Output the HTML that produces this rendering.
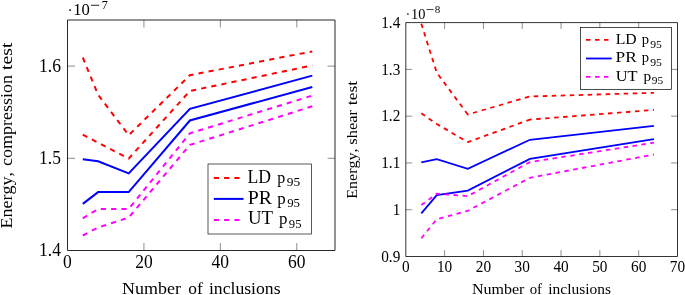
<!DOCTYPE html>
<html><head><meta charset="utf-8"><title>Energy plots</title>
<style>
html,body{margin:0;padding:0;background:#fff;width:685px;height:295px;overflow:hidden;}
svg{display:block;will-change:transform;}
text{font-family:"Liberation Serif",serif;font-kerning:none;font-variant-ligatures:none;}
</style></head><body>
<svg width="685" height="295" viewBox="0 0 685 295">
<rect width="685" height="295" fill="#fff"/>
<clipPath id="cl"><rect x="67.5" y="20" width="267.5" height="230.5"/></clipPath>
<g clip-path="url(#cl)" fill="none" stroke-width="2" stroke-linejoin="miter">
<polyline points="82.8,57.5 98.1,94.8 128.7,135.2 189.9,75.2 312.3,51.4" stroke="#ff0000" stroke-dasharray="5.15 5.15 5.15 5.15 5.15 5.15 5.15 5.15 5.15 5.15 5.15 5.15 5.15 5.15 5.15 5.15 5.15 5.15 5.15 5.15 5.15 5.15 5.15 5.15 5.15 5.15 5.15 5.15 5.15 5.15 5.15 5.15 5.15 5.15 5.15 5.15 5.15 5.15 5.15 5.15 5.15 5.15 5.15 5.15 5.15 5.15 5.15 5.15 5.15 5.15 5.15 5.15 5.15 5.15 5.15 5.15 5.15 5.15 2.69 1000.00"/>
<polyline points="82.8,134.6 98.1,142.7 128.7,158.6 189.9,91 312.3,65.4" stroke="#ff0000" stroke-dasharray="5.15 5.15 5.15 5.15 5.15 5.15 5.15 5.15 5.15 5.15 5.15 5.15 5.15 5.15 5.15 5.15 5.15 5.15 5.15 5.15 5.15 5.15 5.15 5.15 5.15 5.15 5.15 5.15 5.15 5.15 5.15 5.15 5.15 5.15 5.15 5.15 5.15 5.15 5.15 5.15 5.15 5.15 5.15 5.15 5.15 5.15 5.15 5.15 5.15 5.15 5.15 5.15 0.23 1000.00"/>
<polyline points="82.8,159.2 98.1,161.2 128.7,173.4 189.9,108.9 312.3,75.6" stroke="#0000ff"/>
<polyline points="82.8,203.9 98.1,192.1 128.7,192.1 189.9,120.5 312.3,87" stroke="#0000ff"/>
<polyline points="82.8,218.3 98.1,209 128.7,209 189.9,133.3 312.3,95.6" stroke="#ff00ff" stroke-dasharray="5.15 5.15 5.15 5.15 5.15 5.15 5.15 5.15 5.15 5.15 5.15 5.15 5.15 5.15 5.15 5.15 5.15 5.15 5.15 5.15 5.15 5.15 5.15 5.15 5.15 5.15 5.15 5.15 5.15 5.15 5.15 5.15 5.15 5.15 5.15 5.15 5.15 5.15 5.15 5.15 5.15 5.15 5.15 5.15 5.15 5.15 5.15 5.15 5.15 5.15 5.15 5.15 5.15 1000.97"/>
<polyline points="82.8,235.5 98.1,227.5 128.7,217.6 189.9,144.9 312.3,106.3" stroke="#ff00ff" stroke-dasharray="5.15 5.15 5.15 5.15 5.15 5.15 5.15 5.15 5.15 5.15 5.15 5.15 5.15 5.15 5.15 5.15 5.15 5.15 5.15 5.15 5.15 5.15 5.15 5.15 5.15 5.15 5.15 5.15 5.15 5.15 5.15 5.15 5.15 5.15 5.15 5.15 5.15 5.15 5.15 5.15 5.15 5.15 5.15 5.15 5.15 5.15 5.15 5.15 5.15 5.15 5.15 5.15 5.00 1000.00"/>
</g>
<g stroke="#000" stroke-width="0.45" fill="none">
<line x1="143.93" y1="250.5" x2="143.93" y2="243"/>
<line x1="143.93" y1="20" x2="143.93" y2="27.5"/>
<line x1="220.36" y1="250.5" x2="220.36" y2="243"/>
<line x1="220.36" y1="20" x2="220.36" y2="27.5"/>
<line x1="296.79" y1="250.5" x2="296.79" y2="243"/>
<line x1="296.79" y1="20" x2="296.79" y2="27.5"/>
<line x1="67.5" y1="158.3" x2="75" y2="158.3"/>
<line x1="335" y1="158.3" x2="327.5" y2="158.3"/>
<line x1="67.5" y1="66.1" x2="75" y2="66.1"/>
<line x1="335" y1="66.1" x2="327.5" y2="66.1"/>
</g>
<path d="M67.5 20H335V250.5H67.5Z" fill="none" stroke="#000" stroke-width="0.85"/>
<g font-size="17.5" fill="#000">
<text transform="translate(67.5 267.9) scale(1 1.035)" text-anchor="middle">0</text>
<text transform="translate(143.93 267.9) scale(1 1.035)" text-anchor="middle">20</text>
<text transform="translate(220.36 267.9) scale(1 1.035)" text-anchor="middle">40</text>
<text transform="translate(296.79 267.9) scale(1 1.035)" text-anchor="middle">60</text>
<text transform="translate(60.9 256.2) scale(1 1.035)" text-anchor="end">1.4</text>
<text transform="translate(60.9 164) scale(1 1.035)" text-anchor="end">1.5</text>
<text transform="translate(60.9 71.8) scale(1 1.035)" text-anchor="end">1.6</text>
</g>
<circle cx="70.1" cy="10.1" r="0.95" fill="#000"/>
<text x="73.2" y="14.7" font-size="17.3" textLength="16.6" lengthAdjust="spacingAndGlyphs">10</text>
<rect x="91" y="4.8" width="8.2" height="0.85" fill="#000"/>
<text x="101.8" y="8.7" font-size="12.2">7</text>
<text x="122.08" y="293.9" font-size="17.5" textLength="58.88" lengthAdjust="spacingAndGlyphs">Number</text>
<text x="188.24" y="293.9" font-size="17.5" textLength="14.46" lengthAdjust="spacingAndGlyphs">of</text>
<text x="208.93" y="293.9" font-size="17.5" textLength="71.61" lengthAdjust="spacingAndGlyphs">inclusions</text>
<text transform="rotate(-90)" x="-228.42" y="11.7" font-size="17.5" textLength="56.45" lengthAdjust="spacingAndGlyphs">Energy,</text>
<text transform="rotate(-90)" x="-166.09" y="11.7" font-size="17.5" textLength="91.16" lengthAdjust="spacingAndGlyphs">compression</text>
<text transform="rotate(-90)" x="-69.99" y="11.7" font-size="17.5" textLength="27.41" lengthAdjust="spacingAndGlyphs">test</text>
<rect x="208" y="164" width="103.5" height="70" fill="#fff" stroke="#000" stroke-width="0.65"/>
<line x1="213.8" y1="178" x2="243.5" y2="178" stroke="#ff0000" stroke-width="2" stroke-dasharray="5.15 5.15"/>
<text x="247.59" y="182.8" font-size="18" textLength="23.51" lengthAdjust="spacingAndGlyphs">LD</text>
<text x="277.34" y="182.8" font-size="17.6" textLength="7.98" lengthAdjust="spacingAndGlyphs">p</text>
<text x="286.87" y="186.4" font-size="12.4" textLength="13.46" lengthAdjust="spacingAndGlyphs">95</text>
<line x1="213.8" y1="198.9" x2="243.5" y2="198.9" stroke="#0000ff" stroke-width="2"/>
<text x="247.73" y="203.7" font-size="18" textLength="24.2" lengthAdjust="spacingAndGlyphs">PR</text>
<text x="277.23" y="203.7" font-size="17.6" textLength="8.43" lengthAdjust="spacingAndGlyphs">p</text>
<text x="287.19" y="207.3" font-size="12.4" textLength="12.81" lengthAdjust="spacingAndGlyphs">95</text>
<line x1="213.8" y1="220.1" x2="243.5" y2="220.1" stroke="#ff00ff" stroke-width="2" stroke-dasharray="5.15 5.15"/>
<text x="247.91" y="224.4" font-size="18" textLength="25.01" lengthAdjust="spacingAndGlyphs">UT</text>
<text x="279.03" y="224.4" font-size="17.6" textLength="8.43" lengthAdjust="spacingAndGlyphs">p</text>
<text x="288.89" y="228" font-size="12.4" textLength="12.6" lengthAdjust="spacingAndGlyphs">95</text>
<clipPath id="cr"><rect x="405.8" y="22.6" width="271.7" height="233.9"/></clipPath>
<g clip-path="url(#cr)" fill="none" stroke-width="1.8" stroke-linejoin="miter">
<polyline points="421.3,23.7 436.8,72.8 467.8,114.5 529.9,96.5 653.9,92.8" stroke="#ff0000" stroke-dasharray="4.50 4.50 4.50 4.50 4.50 4.50 4.50 4.50 4.50 4.50 4.50 4.50 4.50 4.50 4.50 4.50 4.50 4.50 4.50 4.50 4.50 4.50 5.30 4.50 4.50 4.50 4.50 4.50 4.50 4.50 4.50 4.50 4.50 4.50 4.50 4.50 4.50 4.60 4.50 4.50 4.50 4.50 4.50 4.50 4.50 4.50 4.50 4.50 4.50 4.50 4.50 4.50 4.50 4.50 4.50 4.50 4.50 4.50 4.50 4.50 4.50 4.50 4.50 4.50 3.26 1000.00"/>
<polyline points="421.3,113.3 436.8,124 467.8,142.1 529.9,119.6 653.9,109.9" stroke="#ff0000" stroke-dasharray="4.50 4.50 4.50 4.50 4.50 4.50 4.50 4.50 4.50 4.50 4.50 4.50 4.50 4.50 4.50 4.50 4.50 4.50 4.50 4.50 4.50 4.50 4.50 4.50 4.50 4.50 5.60 4.50 4.50 4.50 4.50 4.50 4.50 4.50 4.50 4.50 4.50 4.50 4.50 4.50 4.50 4.50 4.50 4.50 4.50 4.50 4.50 4.50 4.50 4.50 4.50 4.50 4.50 4.50 1.06 1000.00"/>
<polyline points="421.3,162.4 436.8,159.1 467.8,168.8 529.9,139.8 653.9,125.8" stroke="#0000ff"/>
<polyline points="421.3,213.4 436.8,195.2 467.8,190.6 529.9,158.9 653.9,139.2" stroke="#0000ff"/>
<polyline points="421.3,205.1 436.8,193.7 467.8,196.1 529.9,162.1 653.9,142.7" stroke="#ff00ff" stroke-dasharray="4.50 4.50 4.50 4.50 4.50 4.50 4.50 4.50 4.50 4.50 4.50 4.50 4.50 4.50 4.50 4.50 4.50 4.50 4.50 4.50 4.50 4.50 4.50 4.50 4.50 4.50 4.50 4.50 4.50 4.50 4.50 4.50 4.50 4.50 4.50 4.50 4.50 4.50 4.50 4.50 4.50 4.50 4.50 4.50 4.50 4.50 4.50 4.50 4.50 4.50 4.50 4.50 4.50 4.50 3.64 1000.00"/>
<polyline points="421.3,238.2 436.8,219.2 467.8,210.8 529.9,177.8 653.9,154.5" stroke="#ff00ff" stroke-dasharray="4.50 4.50 4.50 4.50 4.50 4.50 4.50 4.50 4.50 4.50 4.50 4.50 4.50 4.50 4.50 4.50 4.50 4.50 4.50 4.50 4.50 4.50 4.50 4.50 4.50 4.50 4.50 4.50 4.50 4.50 4.50 4.50 4.50 4.50 4.50 4.50 4.50 4.50 4.50 4.50 4.50 4.50 4.50 4.50 4.50 4.50 4.50 4.50 4.50 4.50 4.50 4.50 4.50 4.50 4.50 4.50 1.13 1000.00"/>
</g>
<g stroke="#000" stroke-width="0.45" fill="none">
<line x1="444.61" y1="256.5" x2="444.61" y2="250.1"/>
<line x1="444.61" y1="22.6" x2="444.61" y2="29"/>
<line x1="483.43" y1="256.5" x2="483.43" y2="250.1"/>
<line x1="483.43" y1="22.6" x2="483.43" y2="29"/>
<line x1="522.24" y1="256.5" x2="522.24" y2="250.1"/>
<line x1="522.24" y1="22.6" x2="522.24" y2="29"/>
<line x1="561.06" y1="256.5" x2="561.06" y2="250.1"/>
<line x1="561.06" y1="22.6" x2="561.06" y2="29"/>
<line x1="599.87" y1="256.5" x2="599.87" y2="250.1"/>
<line x1="599.87" y1="22.6" x2="599.87" y2="29"/>
<line x1="638.69" y1="256.5" x2="638.69" y2="250.1"/>
<line x1="638.69" y1="22.6" x2="638.69" y2="29"/>
<line x1="405.8" y1="209.72" x2="412.2" y2="209.72"/>
<line x1="677.5" y1="209.72" x2="671.1" y2="209.72"/>
<line x1="405.8" y1="162.94" x2="412.2" y2="162.94"/>
<line x1="677.5" y1="162.94" x2="671.1" y2="162.94"/>
<line x1="405.8" y1="116.16" x2="412.2" y2="116.16"/>
<line x1="677.5" y1="116.16" x2="671.1" y2="116.16"/>
<line x1="405.8" y1="69.38" x2="412.2" y2="69.38"/>
<line x1="677.5" y1="69.38" x2="671.1" y2="69.38"/>
</g>
<path d="M405.8 22.6H677.5V256.5H405.8Z" fill="none" stroke="#000" stroke-width="0.8"/>
<g font-size="15.3" fill="#000">
<text transform="translate(405.8 271.6) scale(1 1.06)" text-anchor="middle">0</text>
<text transform="translate(444.61 271.6) scale(1 1.06)" text-anchor="middle">10</text>
<text transform="translate(483.43 271.6) scale(1 1.06)" text-anchor="middle">20</text>
<text transform="translate(522.24 271.6) scale(1 1.06)" text-anchor="middle">30</text>
<text transform="translate(561.06 271.6) scale(1 1.06)" text-anchor="middle">40</text>
<text transform="translate(599.87 271.6) scale(1 1.06)" text-anchor="middle">50</text>
<text transform="translate(638.69 271.6) scale(1 1.06)" text-anchor="middle">60</text>
<text transform="translate(677.5 271.6) scale(1 1.06)" text-anchor="middle">70</text>
<text transform="translate(400.3 261.7) scale(1 1.06)" text-anchor="end">0.9</text>
<text transform="translate(400.3 214.92) scale(1 1.06)" text-anchor="end">1</text>
<text transform="translate(400.3 168.14) scale(1 1.06)" text-anchor="end">1.1</text>
<text transform="translate(400.3 121.36) scale(1 1.06)" text-anchor="end">1.2</text>
<text transform="translate(400.3 74.58) scale(1 1.06)" text-anchor="end">1.3</text>
<text transform="translate(400.3 27.8) scale(1 1.06)" text-anchor="end">1.4</text>
</g>
<circle cx="407.9" cy="14" r="0.85" fill="#000"/>
<text x="411" y="18.5" font-size="15" textLength="14.4" lengthAdjust="spacingAndGlyphs">10</text>
<rect x="426.5" y="9.3" width="7.2" height="0.75" fill="#000"/>
<text x="434.8" y="12.8" font-size="11">8</text>
<text x="471.94" y="294" font-size="15.2" textLength="52.5" lengthAdjust="spacingAndGlyphs">Number</text>
<text x="529.63" y="294" font-size="15.2" textLength="12.37" lengthAdjust="spacingAndGlyphs">of</text>
<text x="548.28" y="294" font-size="15.2" textLength="62.68" lengthAdjust="spacingAndGlyphs">inclusions</text>
<text transform="rotate(-90)" x="-198.76" y="356.7" font-size="15.2" textLength="50.27" lengthAdjust="spacingAndGlyphs">Energy,</text>
<text transform="rotate(-90)" x="-144.67" y="356.7" font-size="15.2" textLength="34.72" lengthAdjust="spacingAndGlyphs">shear</text>
<text transform="rotate(-90)" x="-105.17" y="356.7" font-size="15.2" textLength="24.17" lengthAdjust="spacingAndGlyphs">test</text>
<rect x="580.5" y="27.5" width="91" height="62" fill="#fff" stroke="#000" stroke-width="0.7"/>
<line x1="586" y1="39.9" x2="611.7" y2="39.9" stroke="#ff0000" stroke-width="1.8" stroke-dasharray="4.5 4.5"/>
<text x="615.65" y="44.3" font-size="15.6" textLength="20.98" lengthAdjust="spacingAndGlyphs">LD</text>
<text x="641.86" y="44.3" font-size="15.2" textLength="7.31" lengthAdjust="spacingAndGlyphs">p</text>
<text x="650.23" y="47.5" font-size="10.7" textLength="11.63" lengthAdjust="spacingAndGlyphs">95</text>
<line x1="586" y1="58.5" x2="611.7" y2="58.5" stroke="#0000ff" stroke-width="1.8"/>
<text x="615.6" y="62.3" font-size="15.6" textLength="21.23" lengthAdjust="spacingAndGlyphs">PR</text>
<text x="641.86" y="62.3" font-size="15.2" textLength="7.31" lengthAdjust="spacingAndGlyphs">p</text>
<text x="650.22" y="65.5" font-size="10.7" textLength="11.74" lengthAdjust="spacingAndGlyphs">95</text>
<line x1="586" y1="76.9" x2="611.7" y2="76.9" stroke="#ff00ff" stroke-width="1.8" stroke-dasharray="4.5 4.5"/>
<text x="615.76" y="80.9" font-size="15.6" textLength="21.82" lengthAdjust="spacingAndGlyphs">UT</text>
<text x="643.55" y="80.9" font-size="15.2" textLength="7.64" lengthAdjust="spacingAndGlyphs">p</text>
<text x="651.83" y="84.1" font-size="10.7" textLength="11.41" lengthAdjust="spacingAndGlyphs">95</text>
</svg>
</body></html>
